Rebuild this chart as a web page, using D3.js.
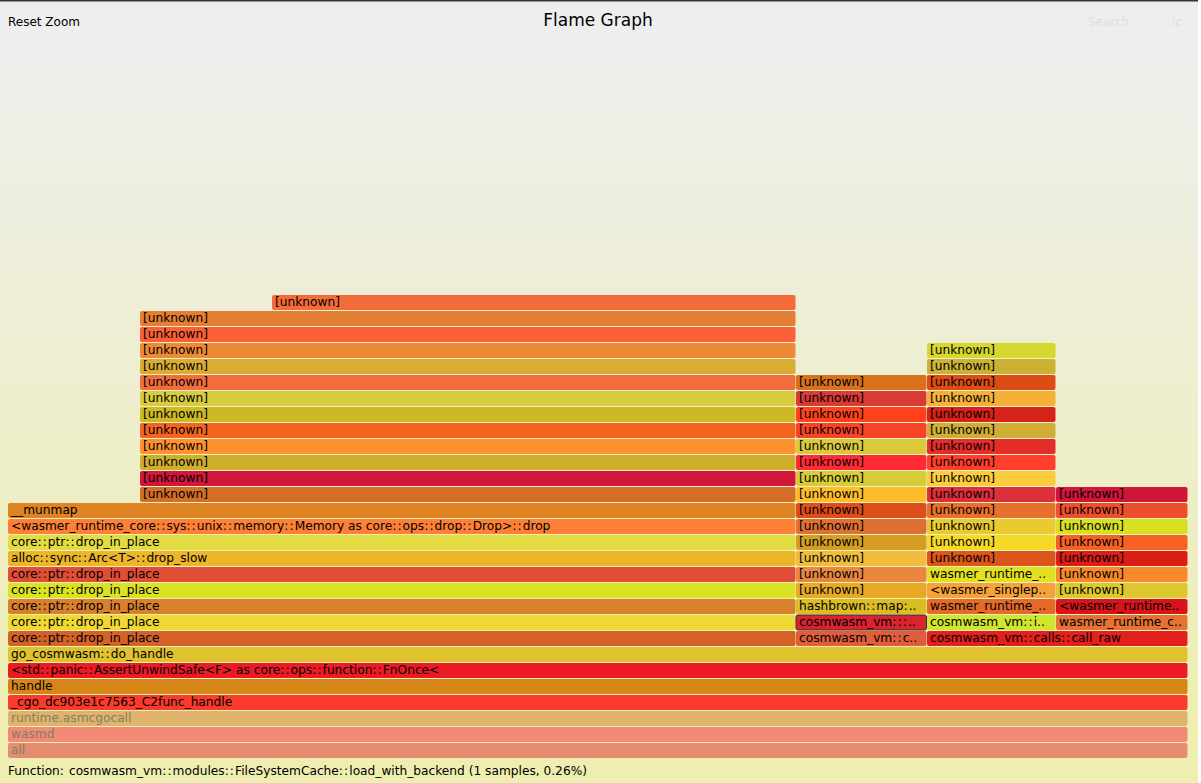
<!DOCTYPE html>
<html>
<head>
<meta charset="utf-8">
<title>Flame Graph</title>
<script src="https://cdn.jsdelivr.net/npm/d3@7"></script>
<style>
  html, body { margin: 0; padding: 0; background: #fff; }
  svg { display: block; }
  text { font-family: "DejaVu Sans", Verdana, sans-serif; font-size: 12px; fill: #000; }
  text.label { font-size: 12.2px; }
</style>
</head>
<body>
<div id="chart"></div>
<script>
const TOTAL_SAMPLES = 385;

// one entry per frame, all four lists line up: bottom of the stack first
const frameNames = [
  'all', 'wasmd', 'runtime.asmcgocall', '_cgo_dc903e1c7563_C2func_handle', 'handle',
  '<std::panic::AssertUnwindSafe<F> as core::ops::function::FnOnce<', 'go_cosmwasm::do_handle',
  'core::ptr::drop_in_place', 'cosmwasm_vm::c..', 'cosmwasm_vm::calls::call_raw',
  'core::ptr::drop_in_place', 'cosmwasm_vm:::..', 'cosmwasm_vm::i..', 'wasmer_runtime_c..',
  'core::ptr::drop_in_place', 'hashbrown::map:..', 'wasmer_runtime_..', '<wasmer_runtime..',
  'core::ptr::drop_in_place', '[unknown]', '<wasmer_singlep..', '[unknown]',
  'core::ptr::drop_in_place', '[unknown]', 'wasmer_runtime_..', '[unknown]',
  'alloc::sync::Arc<T>::drop_slow', '[unknown]', '[unknown]', '[unknown]',
  'core::ptr::drop_in_place', '[unknown]', '[unknown]', '[unknown]',
  '<wasmer_runtime_core::sys::unix::memory::Memory as core::ops::drop::Drop>::drop', '[unknown]', '[unknown]', '[unknown]',
  '__munmap', '[unknown]', '[unknown]', '[unknown]',
  '[unknown]', '[unknown]', '[unknown]', '[unknown]',
  '[unknown]', '[unknown]', '[unknown]',
  '[unknown]', '[unknown]', '[unknown]',
  '[unknown]', '[unknown]', '[unknown]',
  '[unknown]', '[unknown]', '[unknown]',
  '[unknown]', '[unknown]', '[unknown]',
  '[unknown]', '[unknown]', '[unknown]',
  '[unknown]', '[unknown]', '[unknown]',
  '[unknown]', '[unknown]',
  '[unknown]', '[unknown]',
  '[unknown]',
  '[unknown]',
  '[unknown]'
];
const frameDepths = [
  0, 1, 2, 3, 4, 5, 6,
  7, 7, 7,
  8, 8, 8, 8,
  9, 9, 9, 9,
  10, 10, 10, 10,
  11, 11, 11, 11,
  12, 12, 12, 12,
  13, 13, 13, 13,
  14, 14, 14, 14,
  15, 15, 15, 15,
  16, 16, 16, 16,
  17, 17, 17,
  18, 18, 18,
  19, 19, 19,
  20, 20, 20,
  21, 21, 21,
  22, 22, 22,
  23, 23, 23,
  24, 24,
  25, 25,
  26,
  27,
  28
];
const frameStarts = [
  0, 0, 0, 0, 0, 0, 0,
  0, 257, 300,
  0, 257, 300, 342,
  0, 257, 300, 342,
  0, 257, 300, 342,
  0, 257, 300, 342,
  0, 257, 300, 342,
  0, 257, 300, 342,
  0, 257, 300, 342,
  0, 257, 300, 342,
  43, 257, 300, 342,
  43, 257, 300,
  43, 257, 300,
  43, 257, 300,
  43, 257, 300,
  43, 257, 300,
  43, 257, 300,
  43, 257, 300,
  43, 300,
  43, 300,
  43,
  43,
  86
];
const frameSamples = [
  385, 385, 385, 385, 385, 385, 385,
  257, 43, 85,
  257, 43, 42, 43,
  257, 43, 42, 43,
  257, 43, 42, 43,
  257, 43, 42, 43,
  257, 43, 42, 43,
  257, 43, 42, 43,
  257, 43, 42, 43,
  257, 43, 42, 43,
  214, 43, 42, 43,
  214, 43, 42,
  214, 43, 42,
  214, 43, 42,
  214, 43, 42,
  214, 43, 42,
  214, 43, 42,
  214, 43, 42,
  214, 42,
  214, 42,
  214,
  214,
  171
];

// fill colours, same order as the frames above
const frameColors = [
  '#e58c71', '#f28a76', '#e0b36d', '#f83b2a', '#d68519', '#ec1a25', '#e0c22f',
  '#d46228', '#e05c3a', '#e2211d',
  '#efd832', '#d9232f', '#cfe52e', '#e37233',
  '#d9802c', '#dbbc22', '#e56a2a', '#d91419',
  '#dae223', '#e8a928', '#f5a23a', '#ddc92d',
  '#e04e36', '#ea873e', '#e3e022', '#f8882a',
  '#ecb628', '#f1bc3c', '#dc561b', '#db1d17',
  '#e2dc42', '#d59d22', '#f6d827', '#f56224',
  '#fd8035', '#de7034', '#e9cb30', '#d9e024',
  '#de8422', '#dc4d1a', '#e8702c', '#ec4f2c',
  '#d26e26', '#fdbd2a', '#dc303a', '#d0153a',
  '#d0173a', '#d6cc38', '#fbcd3c',
  '#cfae2c', '#ff2a34', '#ff3e2c',
  '#fd922e', '#dac93a', '#e42d29',
  '#f2641f', '#f74326', '#d0ae36',
  '#ccb923', '#ff421e', '#d62319',
  '#d8cc3e', '#d83a35', '#f5b038',
  '#f26d3c', '#d8701e', '#dc4c15',
  '#daac32', '#cbb234',
  '#ee8a35', '#d6d82f',
  '#fa5f36',
  '#e37f33',
  '#f36b38'
];

const fadedFrames = ['all', 'wasmd', 'runtime.asmcgocall'];
const hoveredFrame = 11;
const detailsText = 'Function: cosmwasm_vm::modules::FileSystemCache::load_with_backend (1 samples, 0.26%)';

const CONFIG = {
  width: 1198,
  height: 783,
  left: 8,
  right: 1188,
  rowHeight: 16,
  bottomRowY: 743,
  colonSpacing: 1.1
};

const svg = d3.select('#chart').append('svg')
  .attr('width', CONFIG.width)
  .attr('height', CONFIG.height);

const gradient = svg.append('defs').append('linearGradient')
  .attr('id', 'background')
  .attr('x1', 0).attr('y1', 0).attr('x2', 0).attr('y2', 1);
gradient.append('stop').attr('offset', '5%').attr('stop-color', '#eeeeee');
gradient.append('stop').attr('offset', '95%').attr('stop-color', '#eeeeb0');

svg.append('rect')
  .attr('width', CONFIG.width)
  .attr('height', CONFIG.height)
  .attr('fill', 'url(#background)');

// dark line left by the page above the embedded svg
svg.append('rect')
  .attr('width', CONFIG.width)
  .attr('height', 1.5)
  .attr('fill', '#333');

// Header
svg.append('text').attr('x', 8).attr('y', 26).text('Reset Zoom');
svg.append('text').attr('x', 598).attr('y', 26)
  .attr('text-anchor', 'middle').style('font-size', '17px').text('Flame Graph');
svg.append('text').attr('x', 1088).attr('y', 26).style('fill', '#dddddd').text('Search');
svg.append('text').attr('x', 1172).attr('y', 26).style('fill', '#dddddd').text('ic');

const x = d3.scaleLinear().domain([0, TOTAL_SAMPLES]).rangeRound([CONFIG.left, CONFIG.right]);
const y = d3.scaleLinear().domain([0, 1]).range([CONFIG.bottomRowY, CONFIG.bottomRowY - CONFIG.rowHeight]);

// Verdana's colon is wider than DejaVu's, so colons get a little extra room
function setLabel(selection, getText) {
  selection.each(function(d) {
    const text = d3.select(this);
    getText(d).split(/(:)/).filter(part => part !== '').forEach(part => {
      const span = text.append('tspan').text(part);
      if (part === ':') span.attr('letter-spacing', CONFIG.colonSpacing);
    });
  });
}

const frames = frameNames.map((name, i) => ({
  id: i,
  name,
  depth: frameDepths[i],
  start: frameStarts[i],
  samples: frameSamples[i],
  color: frameColors[i]
}));

const g = svg.selectAll('g.frame')
  .data(frames)
  .join('g')
  .attr('class', 'frame')
  .attr('transform', d => `translate(${x(d.start)},${y(d.depth)})`);

g.append('rect')
  .attr('width', d => x(d.start + d.samples) - x(d.start) - 0.5)
  .attr('height', CONFIG.rowHeight - 1)
  .attr('rx', 2)
  .attr('ry', 2)
  .attr('fill', d => d.color)
  .attr('stroke', d => d.id === hoveredFrame ? '#333' : 'none')
  .attr('stroke-width', 1);

g.append('text')
  .attr('class', 'label')
  .attr('x', 3)
  .attr('y', 11)
  .style('fill', d => fadedFrames.includes(d.name) ? '#7f7f66' : '#000')
  .call(setLabel, d => d.name);

// Details line
svg.append('text').datum(detailsText)
  .attr('class', 'label')
  .attr('x', 8)
  .attr('y', 774.5)
  .call(setLabel, d => d);
</script>
</body>
</html>
